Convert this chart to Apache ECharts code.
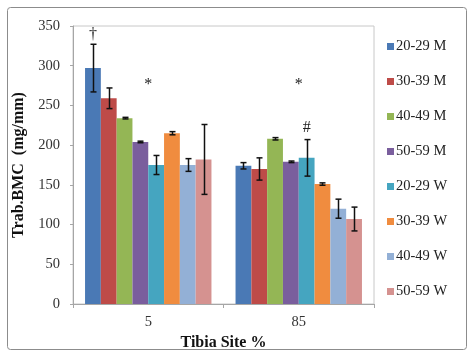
<!DOCTYPE html>
<html><head><meta charset="utf-8">
<script src="https://cdn.jsdelivr.net/npm/echarts@6/dist/echarts.min.js"></script>
<style>html,body{margin:0;padding:0;background:#fff}#c{width:474px;height:357px}</style>
</head><body><div id="c"></div>
<script>
var categories = ['5', '85'];
var seriesNames = ['20-29 M','30-39 M','40-49 M','50-59 M','20-29 W','30-39 W','40-49 W','50-59 W'];
var colors = ['#4A79B5','#BE4B48','#94B655','#7A5E9D','#45A5C0','#F08C3F','#93B0D6','#D59290'];
var m2029 = [297, 174];
var m3039 = [259, 170];
var m4049 = [234, 208];
var m5059 = [204, 179];
var w2029 = [175, 184];
var w3039 = [215, 151];
var w4049 = [175, 120];
var w5059 = [182, 107];
var err2029m = [30, 4];
var err3039m = [13, 14];
var err4049m = [1, 1.5];
var err5059m = [1, 1];
var err2029w = [12, 23];
var err3039w = [2, 1.5];
var err4049w = [8, 12];
var err5059w = [44, 15];
var yTicks = [0, 50, 100, 150, 200, 250, 300, 350];
// annotations: [category index, bar index (-1 = group centre), value, text]
var notes = [[0, 0, 339, '†'], [0, -1, 276, '*'], [1, -1, 276, '*'], [1, 4, 222, '#']];

var values = [m2029, m3039, m4049, m5059, w2029, w3039, w4049, w5059];
var errs = [err2029m, err3039m, err4049m, err5059m, err2029w, err3039w, err4049w, err5059w];
var catGap = 0.16;
var nBars = seriesNames.length;

function barOffset(api, si) {
  var cw = api.size([1, 0])[0];
  var bw = cw * (1 - catGap) / nBars;
  return { off: -cw * (1 - catGap) / 2 + bw * (si + 0.5), bw: bw };
}

var errData = [];
for (var s = 0; s < nBars; s++) {
  for (var c = 0; c < categories.length; c++) {
    errData.push([c, s, values[s][c] - errs[s][c], values[s][c] + errs[s][c]]);
  }
}

var font = '"Liberation Serif", "Times New Roman", serif';
var series = seriesNames.map(function (n, i) {
  return { name: n, type: 'bar', data: values[i], barGap: '0%', barCategoryGap: (catGap * 100) + '%',
    itemStyle: { color: colors[i] }, emphasis: { disabled: true }, z: 2 };
});
series.push({
  type: 'custom', data: errData, z: 5, silent: true,
  encode: { x: 0, y: [2, 3] },
  renderItem: function (params, api) {
    var c = api.value(0), si = api.value(1);
    var o = barOffset(api, si);
    var lo = api.coord([c, api.value(2)]);
    var hi = api.coord([c, api.value(3)]);
    var x = Math.round(lo[0] + o.off) + 0.5;
    var cap = 3;
    var st = { stroke: '#111', lineWidth: 1.5 };
    return { type: 'group', children: [
      { type: 'line', shape: { x1: x, y1: lo[1], x2: x, y2: hi[1] }, style: st },
      { type: 'line', shape: { x1: x - cap, y1: lo[1], x2: x + cap, y2: lo[1] }, style: st },
      { type: 'line', shape: { x1: x - cap, y1: hi[1], x2: x + cap, y2: hi[1] }, style: st }
    ]};
  }
});
series.push({
  type: 'custom', data: notes, z: 6, silent: true,
  encode: { x: 0, y: 2 },
  renderItem: function (params, api) {
    var c = api.value(0), si = api.value(1);
    var p = api.coord([c, api.value(2)]);
    var dx = si >= 0 ? barOffset(api, si).off : 0;
    return { type: 'text', x: p[0] + dx, y: p[1],
      style: { text: notes[params.dataIndex][3], font: '16px ' + font, fill: '#222', align: 'center', verticalAlign: 'middle' } };
  }
});

var chart = echarts.init(document.getElementById('c'));
chart.setOption({
  animation: false,
  color: colors,
  grid: { left: 73, right: 100, top: 26, bottom: 53, show: true, borderColor: '#c8c8c8', borderWidth: 1, backgroundColor: 'transparent' },
  legend: {
    orient: 'vertical', left: 382, top: 34, itemWidth: 7, itemHeight: 7, itemGap: 20,
    icon: 'rect', data: seriesNames,
    textStyle: { fontFamily: font, fontSize: 14.5, color: '#222', padding: [0, 0, 0, -3] }
  },
  xAxis: {
    type: 'category', data: categories,
    name: 'Tibia Site %', nameLocation: 'middle', nameGap: 22,
    nameTextStyle: { fontFamily: font, fontSize: 16, fontWeight: 'bold', color: '#111' },
    axisLine: { lineStyle: { color: '#a6a6a6' } },
    axisTick: { show: true, length: 4, lineStyle: { color: '#a6a6a6' } },
    axisLabel: { fontFamily: font, fontSize: 14.5, color: '#333', margin: 11 }
  },
  yAxis: {
    type: 'value', min: yTicks[0], max: yTicks[yTicks.length - 1], interval: yTicks[1] - yTicks[0],
    name: 'Trab.BMC  (mg/mm)', nameLocation: 'middle', nameGap: 45,
    nameTextStyle: { fontFamily: font, fontSize: 16, fontWeight: 'bold', color: '#111' },
    axisLine: { show: true, lineStyle: { color: '#a6a6a6' } },
    axisTick: { show: true, length: 3, lineStyle: { color: '#a6a6a6' } },
    splitLine: { show: false },
    axisLabel: { fontFamily: font, fontSize: 14.5, color: '#333', margin: 13 }
  },
  graphic: [{ type: 'rect', shape: { x: 7.5, y: 7.5, width: 459, height: 342, r: 3 },
    style: { fill: 'none', stroke: '#8c8c8c', lineWidth: 1 }, silent: true }],
  series: series
});
</script></body></html>
